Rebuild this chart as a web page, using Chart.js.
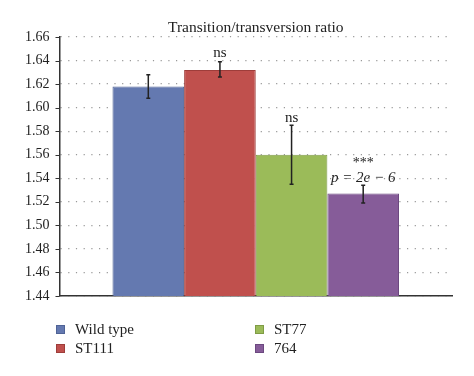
<!DOCTYPE html>
<html>
<head>
<meta charset="utf-8">
<script src="https://cdn.jsdelivr.net/npm/chart.js@4/dist/chart.umd.min.js"></script>
<style>
  html, body { margin: 0; padding: 0; background: #fff; }
  #wrap { position: relative; width: 474px; height: 376px; }
  #legend { position: absolute; left: 56px; top: 321px; width: 400px; font-family: "Liberation Serif", "DejaVu Serif", serif; font-size: 15px; color: #222; }
  .item { position: absolute; display: flex; align-items: center; }
  .sw { width: 9px; height: 9px; margin-right: 10px; box-sizing: border-box; }
</style>
</head>
<body>
<div id="wrap">
  <canvas id="c" width="474" height="376"></canvas>
  <div id="legend"></div>
</div>
<script>
// Daten
const seriesNames = ['Wild type', 'ST111', 'ST77', '764'];
const ratioValues = [1.618, 1.632, 1.560, 1.527];
const errLow = [1.608, 1.626, 1.535, 1.519];
const errHigh = [1.628, 1.639, 1.585, 1.534];
const barColors = ['#6479b0', '#c0504d', '#9bbb59', '#865c99'];
const borderCols = ['#4f6396', '#9e3d3a', '#7f9c45', '#6c4880'];
const yTicks = { min: 1.44, max: 1.66, step: 0.02 };
const chartTitle = 'Transition/transversion ratio';
const serif = '"Liberation Serif", "DejaVu Serif", serif';

// Fehlerbalken + Beschriftungen
const extrasPlugin = {
  id: 'extras',
  afterDatasetsDraw(chart) {
    const ctx = chart.ctx;
    const y = chart.scales.y;
    const area = chart.chartArea;
    ctx.save();
    // Titel
    ctx.fillStyle = '#222';
    ctx.font = '15.5px ' + serif;
    ctx.textAlign = 'center';
    ctx.textBaseline = 'bottom';
    ctx.fillText(chartTitle, (area.left + area.right) / 2, area.top - 1);

    // Fehlerbalken
    ctx.strokeStyle = '#222';
    ctx.lineWidth = 1.5;
    chart.data.datasets.forEach((ds, i) => {
      const bar = chart.getDatasetMeta(i).data[0];
      const x = bar.x;
      const y1 = y.getPixelForValue(errLow[i]);
      const y2 = y.getPixelForValue(errHigh[i]);
      ctx.beginPath();
      ctx.moveTo(x, y1); ctx.lineTo(x, y2);
      ctx.moveTo(x - 2, y1); ctx.lineTo(x + 2, y1);
      ctx.moveTo(x - 2, y2); ctx.lineTo(x + 2, y2);
      ctx.stroke();
    });

    // Signifikanz
    const meta = i => chart.getDatasetMeta(i).data[0];
    ctx.fillStyle = '#222';
    ctx.font = '15px ' + serif;
    ctx.textBaseline = 'alphabetic';
    ctx.fillText('ns', meta(1).x, y.getPixelForValue(errHigh[1]) - 5);
    ctx.fillText('ns', meta(2).x, y.getPixelForValue(errHigh[2]) - 3);
    ctx.font = '14px ' + serif;
    ctx.fillText('***', meta(3).x, y.getPixelForValue(errHigh[3]) - 18);
    ctx.font = 'italic 15px ' + serif;
    ctx.fillText('p = 2e \u2212 6', meta(3).x, y.getPixelForValue(errHigh[3]) - 3);

    // Achsen-Striche links
    ctx.strokeStyle = '#333';
    ctx.lineWidth = 1;
    y.ticks.forEach(t => {
      const py = Math.round(y.getPixelForValue(t.value)) + 0.5;
      ctx.beginPath();
      ctx.moveTo(area.left - 4, py);
      ctx.lineTo(area.left, py);
      ctx.stroke();
    });
    ctx.restore();
  }
};

const chart = new Chart(document.getElementById('c'), {
  type: 'bar',
  data: {
    labels: [''],
    datasets: seriesNames.map((name, i) => ({
      label: name,
      data: [ratioValues[i]],
      backgroundColor: barColors[i],
      borderColor: borderCols[i],
      borderWidth: 1,
      borderSkipped: 'bottom'
    }))
  },
  options: {
    responsive: false,
    animation: false,
    layout: { padding: { left: 15, right: 22, top: 37, bottom: 72 } },
    plugins: {
      legend: { display: false },
      tooltip: { enabled: false }
    },
    datasets: {
      bar: { categoryPercentage: 0.73, barPercentage: 1 }
    },
    scales: {
      x: {
        grid: { display: false },
        border: { display: true, color: '#333', width: 1.5 },
        ticks: { display: false }
      },
      y: {
        min: yTicks.min,
        max: yTicks.max,
        ticks: {
          stepSize: yTicks.step,
          padding: 10,
          color: '#222',
          font: { family: serif, size: 14 },
          callback: v => v.toFixed(2)
        },
        grid: { color: '#999', lineWidth: 1.2, drawTicks: false },
        border: { display: true, color: '#333', width: 1.5, dash: [1.2, 6.5] }
      }
    }
  },
  plugins: [extrasPlugin]
});

// Legende (2 Spalten)
const legend = document.getElementById('legend');
const pos = [[0, 0], [0, 19], [199, 0], [199, 19]];
seriesNames.forEach((name, k) => {
  const el = document.createElement('div');
  el.className = 'item';
  el.style.left = pos[k][0] + 'px';
  el.style.top = pos[k][1] + 'px';
  el.innerHTML = `<span class="sw" style="background:${barColors[k]};border:1px solid ${borderCols[k]}"></span>${name}`;
  legend.appendChild(el);
});
</script>
</body>
</html>
